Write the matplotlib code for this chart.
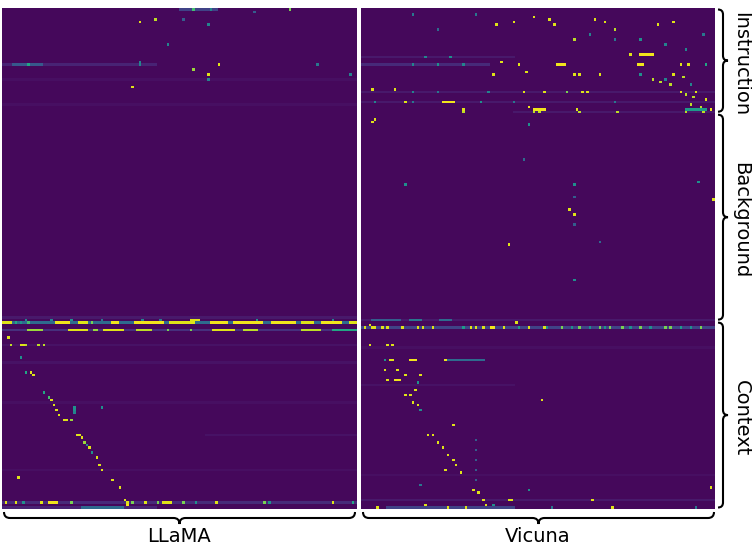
import numpy as np
import matplotlib
matplotlib.use("Agg")
import matplotlib.pyplot as plt
from matplotlib.path import Path
from matplotlib.patches import PathPatch
from matplotlib.transforms import IdentityTransform

# ---- data (matrix cells: row = token, col = head/position) ----
MODELS = ["LLaMA", "Vicuna"]
REGIONS = ["Instruction", "Background", "Context"]
REGION_ROWS = [42, 83, 75]
N_COLS = 140
BASE = 0.02

# row segments: (row, first col, last col, value)
LLAMA_SEGS = [
    (0, 70, 84, 0.2), (22, 0, 60, 0.1), (22, 4, 15, 0.28),
    (28, 0, 139, 0.04), (38, 0, 139, 0.04),
    (123, 0, 139, 0.07), (124, 74, 77, 0.95),
    (125, 0, 139, 0.35), (125, 0, 3, 0.95), (125, 21, 26, 0.98), (125, 30, 33, 0.95),
    (125, 43, 45, 0.98), (125, 52, 63, 0.98), (125, 66, 75, 0.95), (125, 82, 88, 0.98),
    (125, 91, 102, 0.98), (125, 106, 115, 0.98), (125, 118, 122, 0.95),
    (125, 126, 133, 0.98), (125, 137, 139, 0.95),
    (128, 0, 139, 0.14), (128, 10, 15, 0.85), (128, 26, 33, 0.95), (128, 36, 37, 0.85),
    (128, 40, 47, 0.95), (128, 53, 58, 0.9), (128, 83, 91, 0.95), (128, 95, 100, 0.9),
    (128, 118, 125, 0.9), (128, 130, 139, 0.6),
    (134, 0, 139, 0.05), (141, 0, 139, 0.05), (157, 0, 139, 0.04), (170, 80, 139, 0.05),
    (184, 0, 139, 0.04), (197, 0, 139, 0.12), (197, 18, 21, 0.98), (197, 63, 66, 0.95),
    (199, 0, 60, 0.1), (199, 31, 47, 0.35),
]
# single cells: (row, col, value)
LLAMA_DOTS = [
    (0, 75, 0.7), (0, 113, 0.8), (0, 82, 0.45), (1, 99, 0.3), (4, 60, 0.9), (5, 54, 0.95),
    (4, 71, 0.3), (6, 81, 0.45), (14, 65, 0.45), (22, 10, 0.6), (21, 54, 0.45),
    (22, 54, 0.45), (22, 85, 0.95), (24, 75, 0.85), (26, 81, 0.95), (28, 81, 0.45),
    (26, 137, 0.45), (31, 51, 0.95), (22, 124, 0.4),
    (124, 9, 0.45), (124, 19, 0.45), (124, 27, 0.5), (124, 39, 0.4), (124, 55, 0.45),
    (124, 62, 0.4), (124, 100, 0.5), (124, 130, 0.45),
    (125, 5, 0.6), (125, 7, 0.5), (125, 10, 0.7), (125, 35, 0.8),
    (128, 65, 0.8), (128, 74, 0.8),
    (131, 2, 0.95), (134, 3, 0.9), (134, 7, 0.95), (134, 8, 0.95), (134, 9, 0.9),
    (134, 14, 0.9), (134, 16, 0.9), (139, 7, 0.5), (145, 9, 0.6), (145, 11, 0.95),
    (146, 12, 0.95), (153, 16, 0.6), (155, 18, 0.7), (156, 19, 0.95), (158, 20, 0.95),
    (160, 21, 0.95), (162, 22, 0.95), (164, 24, 0.95), (164, 25, 0.95), (164, 27, 0.85),
    (170, 29, 0.95), (170, 30, 0.95), (171, 31, 0.95), (173, 32, 0.85), (174, 33, 0.5),
    (175, 34, 0.95), (177, 35, 0.5), (179, 37, 0.95), (182, 38, 0.95), (184, 39, 0.95),
    (188, 43, 0.95), (191, 46, 0.95), (196, 48, 0.95), (198, 49, 0.98), (187, 6, 0.95),
    (159, 28, 0.5), (160, 28, 0.5), (161, 28, 0.45), (159, 39, 0.5),
    (197, 1, 0.95), (197, 5, 0.95), (197, 8, 0.5), (197, 15, 0.95), (197, 27, 0.8),
    (197, 49, 0.95), (197, 51, 0.8), (197, 56, 0.95), (197, 61, 0.8), (197, 71, 0.8),
    (197, 76, 0.5), (197, 84, 0.95), (197, 103, 0.8), (197, 105, 0.5), (197, 130, 0.95),
    (197, 138, 0.6),
]

VICUNA_SEGS = [
    (19, 0, 60, 0.07), (22, 0, 50, 0.12), (22, 77, 80, 0.98), (22, 109, 111, 0.98),
    (18, 110, 115, 0.98), (33, 0, 139, 0.07), (37, 0, 139, 0.07), (37, 32, 36, 0.98),
    (40, 68, 72, 0.98), (40, 128, 136, 0.55), (41, 60, 139, 0.07),
    (124, 0, 139, 0.07), (124, 4, 15, 0.3), (124, 19, 23, 0.4), (124, 31, 35, 0.35),
    (127, 0, 139, 0.2), (140, 34, 48, 0.35), (140, 19, 21, 0.98), (148, 13, 15, 0.98),
    (135, 0, 139, 0.04), (150, 0, 60, 0.05), (186, 0, 139, 0.04), (196, 0, 139, 0.07),
    (199, 10, 60, 0.2),
]
VICUNA_DOTS = [
    # instruction
    (6, 53, 0.95), (5, 60, 0.95), (3, 68, 0.95), (4, 74, 0.95), (6, 76, 0.95), (4, 92, 0.95),
    (5, 96, 0.95), (6, 117, 0.95), (5, 123, 0.95), (21, 55, 0.95), (22, 62, 0.95),
    (25, 65, 0.95), (26, 52, 0.95), (18, 106, 0.95), (22, 126, 0.95), (22, 129, 0.95),
    (22, 136, 0.6), (26, 84, 0.95), (26, 86, 0.95), (26, 94, 0.95), (26, 123, 0.95),
    (32, 4, 0.95), (32, 13, 0.95), (33, 64, 0.95), (33, 72, 0.95), (33, 81, 0.8),
    (33, 87, 0.95), (33, 89, 0.95), (33, 126, 0.95), (33, 132, 0.95), (37, 17, 0.95),
    (37, 47, 0.5), (36, 136, 0.95), (39, 66, 0.98), (40, 40, 0.95), (40, 85, 0.95),
    (40, 138, 0.98), (44, 5, 0.95),
    (41, 40, 0.9), (41, 68, 0.9), (41, 70, 0.9), (41, 86, 0.9), (41, 101, 0.9),
    (41, 128, 0.9), (41, 135, 0.9),
    (28, 115, 0.9), (29, 118, 0.9), (30, 122, 0.9), (34, 128, 0.9), (35, 131, 0.9),
    (38, 130, 0.9), (39, 134, 0.9), (27, 127, 0.9), (8, 100, 0.9), (12, 84, 0.9),
    (2, 20, 0.4), (2, 45, 0.4), (8, 30, 0.35), (12, 100, 0.4), (14, 120, 0.45),
    (10, 135, 0.4), (22, 20, 0.45), (22, 30, 0.5), (22, 40, 0.45), (19, 25, 0.45),
    (19, 35, 0.5), (33, 20, 0.45), (33, 30, 0.4), (33, 50, 0.45), (37, 5, 0.45),
    (37, 20, 0.4), (37, 60, 0.4), (37, 100, 0.4), (30, 130, 0.45), (26, 110, 0.5),
    (28, 120, 0.45), (10, 90, 0.45), (12, 110, 0.5), (16, 128, 0.45),
    # background
    (45, 4, 0.95), (46, 66, 0.5), (70, 17, 0.5), (70, 84, 0.5), (80, 82, 0.95),
    (82, 84, 0.95), (94, 58, 0.95), (76, 139, 0.95), (69, 133, 0.5), (108, 84, 0.5),
    (93, 94, 0.35), (60, 64, 0.35), (75, 84, 0.3), (86, 84, 0.3),
    # band
    (125, 61, 0.95),
    (127, 1, 0.95), (127, 4, 0.95), (127, 5, 0.95), (127, 8, 0.95), (127, 10, 0.95),
    (127, 16, 0.95), (127, 22, 0.95), (127, 24, 0.95), (127, 28, 0.95), (127, 43, 0.95),
    (127, 45, 0.95), (127, 48, 0.95), (127, 51, 0.98), (127, 52, 0.98), (127, 56, 0.95),
    (127, 66, 0.95), (127, 72, 0.95), (127, 79, 0.8), (127, 86, 0.8), (127, 94, 0.8),
    (127, 98, 0.8), (127, 103, 0.8), (127, 110, 0.8), (127, 120, 0.8), (127, 122, 0.8),
    (127, 134, 0.8), (127, 40, 0.55), (127, 62, 0.55), (127, 73, 0.5), (127, 83, 0.5),
    (127, 90, 0.5), (127, 96, 0.5), (127, 106, 0.5), (127, 114, 0.5), (127, 126, 0.55),
    (127, 130, 0.5), (126, 3, 0.95),
    # context
    (134, 3, 0.95), (134, 10, 0.95), (134, 12, 0.95), (140, 9, 0.5), (140, 11, 0.95),
    (140, 12, 0.95), (140, 33, 0.98), (144, 9, 0.95), (144, 14, 0.95), (146, 17, 0.95),
    (146, 23, 0.95), (148, 10, 0.95), (149, 22, 0.5), (152, 21, 0.95), (154, 17, 0.95),
    (154, 19, 0.95), (157, 20, 0.95), (158, 22, 0.95), (160, 23, 0.5), (156, 71, 0.95),
    (166, 36, 0.95), (170, 26, 0.95), (170, 28, 0.95), (173, 30, 0.95), (175, 32, 0.95),
    (178, 34, 0.95), (180, 36, 0.95), (182, 37, 0.95), (185, 39, 0.95), (184, 33, 0.95),
    (192, 44, 0.95), (193, 46, 0.95), (196, 48, 0.95), (198, 49, 0.95), (196, 58, 0.95),
    (196, 59, 0.95), (198, 25, 0.95), (199, 34, 0.95), (199, 41, 0.95), (199, 6, 0.95),
    (199, 99, 0.95), (196, 91, 0.95), (191, 138, 0.95),
    (172, 45, 0.3), (176, 45, 0.3), (180, 45, 0.3), (184, 45, 0.3), (188, 45, 0.3),
    (192, 66, 0.5), (190, 23, 0.4), (198, 52, 0.5), (199, 75, 0.4), (199, 132, 0.4),
]


def build_matrix(segs, dots):
    m = np.full((sum(REGION_ROWS), N_COLS), BASE)
    for r, c0, c1, v in segs:
        m[r, c0:c1 + 1] = np.maximum(m[r, c0:c1 + 1], v)
    for r, c, v in dots:
        m[r, c] = v
    return m


def vbrace(x, ytop, ybot, hook=6, tip=6):
    ym = (ytop + ybot) / 2
    verts = [(x - hook, ytop), (x, ytop), (x, ytop - hook),
             (x, ym + tip), (x, ym), (x + tip, ym), (x, ym), (x, ym - tip),
             (x, ybot + hook), (x, ybot), (x - hook, ybot)]
    codes = [Path.MOVETO, Path.CURVE3, Path.CURVE3, Path.LINETO, Path.CURVE3, Path.CURVE3,
             Path.CURVE3, Path.CURVE3, Path.LINETO, Path.CURVE3, Path.CURVE3]
    return Path(verts, codes)


def hbrace(y, xl, xr, hook=6, tip=8):
    xm = (xl + xr) / 2
    verts = [(xl, y + hook), (xl, y), (xl + hook, y),
             (xm - tip, y), (xm, y), (xm, y - tip), (xm, y), (xm + tip, y),
             (xr - hook, y), (xr, y), (xr, y + hook)]
    codes = [Path.MOVETO, Path.CURVE3, Path.CURVE3, Path.LINETO, Path.CURVE3, Path.CURVE3,
             Path.CURVE3, Path.CURVE3, Path.LINETO, Path.CURVE3, Path.CURVE3]
    return Path(verts, codes)


W, H = 752, 546
fig = plt.figure(figsize=(W / 100, H / 100), dpi=100)
ax1 = fig.add_axes([2 / W, 37 / H, 354 / W, 501 / H])
ax2 = fig.add_axes([361 / W, 37 / H, 354 / W, 501 / H])
axes = [ax1, ax2]

for ax, segs, dots in zip(axes, [LLAMA_SEGS, VICUNA_SEGS], [LLAMA_DOTS, VICUNA_DOTS]):
    ax.imshow(build_matrix(segs, dots), cmap="viridis", vmin=0, vmax=1,
              aspect="auto", interpolation="nearest")
    ax.set_axis_off()

lw = 1.5
# bottom braces + model names
for ax, name in zip(axes, MODELS):
    bb = ax.get_window_extent()
    y = bb.y0 - 9
    p = hbrace(y, bb.x0 + 2, bb.x1 - 1, tip=6)
    fig.add_artist(PathPatch(p, fill=False, lw=lw, ec="black", transform=IdentityTransform()))
    fig.text((bb.x0 + bb.x1) / 2 / W, (y - 18) / H, name, ha="center", va="center",
             fontsize=14, family="DejaVu Sans")

# right braces + region names
bb = ax2.get_window_extent()
xb = bb.x1 + 8
bounds = np.concatenate([[0], np.cumsum(REGION_ROWS)]) - 0.5
for i, reg in enumerate(REGIONS):
    ytop = ax2.transData.transform((0, bounds[i]))[1] - 1.5
    ybot = ax2.transData.transform((0, bounds[i + 1]))[1] + 1.5
    fig.add_artist(PathPatch(vbrace(xb, ytop, ybot, hook=5, tip=5), fill=False, lw=lw,
                             ec="black", transform=IdentityTransform()))
    fig.text((xb + 18) / W, ((ytop + ybot) / 2 - 3) / H, reg, rotation=-90, ha="center",
             va="center", fontsize=14, family="DejaVu Sans")

fig.savefig("out.png", dpi=100)
